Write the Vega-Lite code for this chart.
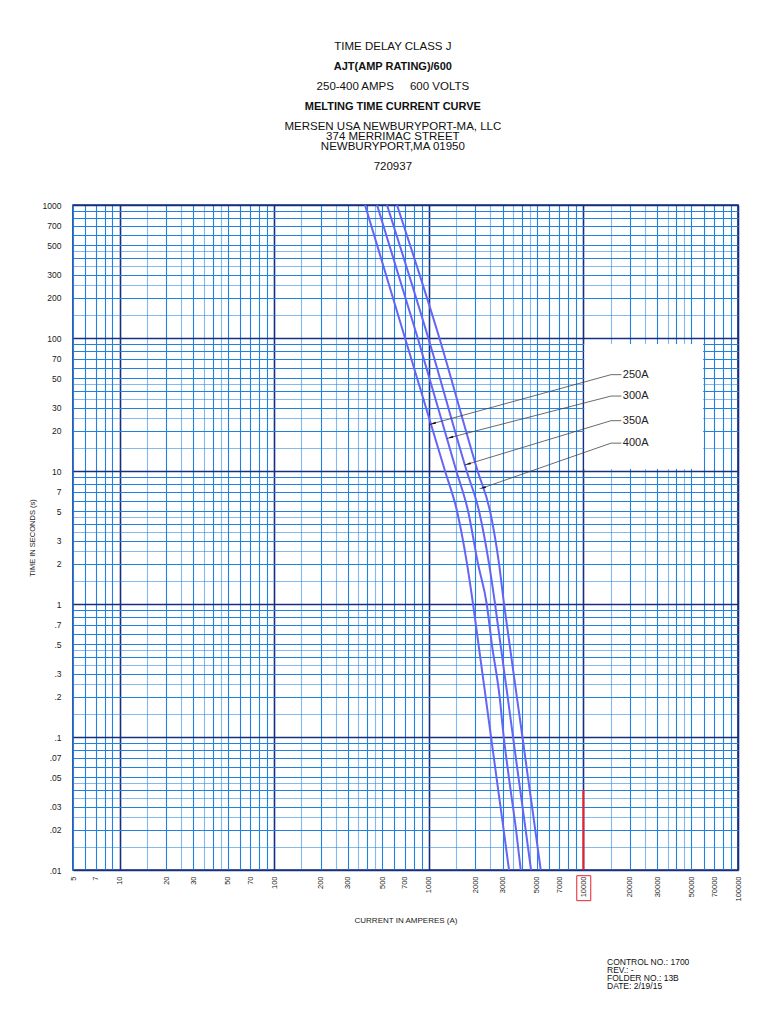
{
  "$schema": "https://vega.github.io/schema/vega-lite/v6.json",
  "width": 665,
  "height": 665,
  "autosize": "none",
  "padding": {"left": 73, "top": 205, "right": 30, "bottom": 154},
  "background": "white",
  "config": {
    "font": "Liberation Sans",
    "view": {"stroke": "#15307f", "strokeWidth": 1.6},
    "text": {"font": "Liberation Sans"}
  },
  "datasets": {
    "curves": [
      {"rating": "250A", "t": 1000, "I": 387}, {"rating": "250A", "t": 100, "I": 702}, {"rating": "250A", "t": 10, "I": 1274}, {"rating": "250A", "t": 5, "I": 1523}, {"rating": "250A", "t": 2, "I": 1768}, {"rating": "250A", "t": 1, "I": 1933}, {"rating": "250A", "t": 0.5, "I": 2096}, {"rating": "250A", "t": 0.2, "I": 2332}, {"rating": "250A", "t": 0.1, "I": 2528}, {"rating": "250A", "t": 0.05, "I": 2740}, {"rating": "250A", "t": 0.02, "I": 3050}, {"rating": "250A", "t": 0.01, "I": 3305},
      {"rating": "300A", "t": 1000, "I": 463}, {"rating": "300A", "t": 100, "I": 848}, {"rating": "300A", "t": 10, "I": 1508}, {"rating": "300A", "t": 5, "I": 1795}, {"rating": "300A", "t": 2, "I": 2083}, {"rating": "300A", "t": 1, "I": 2371}, {"rating": "300A", "t": 0.5, "I": 2558}, {"rating": "300A", "t": 0.2, "I": 2873}, {"rating": "300A", "t": 0.1, "I": 3054}, {"rating": "300A", "t": 0.05, "I": 3295}, {"rating": "300A", "t": 0.02, "I": 3669}, {"rating": "300A", "t": 0.01, "I": 3934},
      {"rating": "350A", "t": 1000, "I": 537}, {"rating": "350A", "t": 100, "I": 993}, {"rating": "350A", "t": 10, "I": 1758}, {"rating": "350A", "t": 5, "I": 2114}, {"rating": "350A", "t": 2, "I": 2454}, {"rating": "350A", "t": 1, "I": 2683}, {"rating": "350A", "t": 0.5, "I": 2908}, {"rating": "350A", "t": 0.2, "I": 3237}, {"rating": "350A", "t": 0.1, "I": 3508}, {"rating": "350A", "t": 0.05, "I": 3802}, {"rating": "350A", "t": 0.02, "I": 4233}, {"rating": "350A", "t": 0.01, "I": 4586},
      {"rating": "400A", "t": 1000, "I": 623}, {"rating": "400A", "t": 100, "I": 1171}, {"rating": "400A", "t": 10, "I": 2070}, {"rating": "400A", "t": 5, "I": 2490}, {"rating": "400A", "t": 2, "I": 2848}, {"rating": "400A", "t": 1, "I": 3067}, {"rating": "400A", "t": 0.5, "I": 3330}, {"rating": "400A", "t": 0.2, "I": 3712}, {"rating": "400A", "t": 0.1, "I": 4035}, {"rating": "400A", "t": 0.05, "I": 4379}, {"rating": "400A", "t": 0.02, "I": 4883}, {"rating": "400A", "t": 0.01, "I": 5298}
    ],
    "leaders": [
      {"rating": "250A", "seq": 0, "I": 1071, "t": 22.8}, {"rating": "250A", "seq": 1, "I": 15100, "t": 53}, {"rating": "250A", "seq": 2, "I": 17600, "t": 53},
      {"rating": "300A", "seq": 0, "I": 1387, "t": 17.9}, {"rating": "300A", "seq": 1, "I": 15100, "t": 36.6}, {"rating": "300A", "seq": 2, "I": 17600, "t": 36.6},
      {"rating": "350A", "seq": 0, "I": 1803, "t": 11.3}, {"rating": "350A", "seq": 1, "I": 15100, "t": 23.9}, {"rating": "350A", "seq": 2, "I": 17600, "t": 23.9},
      {"rating": "400A", "seq": 0, "I": 2254, "t": 7.49}, {"rating": "400A", "seq": 1, "I": 15100, "t": 16.2}, {"rating": "400A", "seq": 2, "I": 17600, "t": 16.2}
    ],
    "labels": [
      {"rating": "250A", "I": 18000, "t": 53},
      {"rating": "300A", "I": 18000, "t": 36.6},
      {"rating": "350A", "I": 18000, "t": 23.9},
      {"rating": "400A", "I": 18000, "t": 16.2}
    ],
    "box": [{"I": 10150, "I2": 59500, "t": 10.35, "t2": 90}],
    "redline": [{"I": 10000, "t": 0.01, "t2": 0.04}],
    "redbox": [{"I": 9060, "I2": 11160, "t": 0.00906, "t2": 0.00588}],
    "header": [
      {"line": 0, "text": "TIME DELAY CLASS J", "bold": false},
      {"line": 1, "text": "AJT(AMP RATING)/600", "bold": true},
      {"line": 2, "text": "250-400 AMPS\u00a0\u00a0\u00a0\u00a0\u00a0600 VOLTS", "bold": false},
      {"line": 3, "text": "MELTING TIME CURRENT CURVE", "bold": true},
      {"line": 4, "text": "MERSEN USA NEWBURYPORT-MA, LLC\n374 MERRIMAC STREET\nNEWBURYPORT,MA 01950", "bold": false},
      {"line": 6, "text": "720937", "bold": false}
    ],
    "footer": [{"text": "CONTROL NO.: 1700\nREV.: -\nFOLDER NO.: 13B\nDATE: 2/19/15"}]
  },
  "layer": [
    {
      "encoding": {
        "x": {
          "field": "I",
          "type": "quantitative",
          "title": "CURRENT IN AMPERES (A)",
          "scale": {"type": "log", "domain": [5, 100000], "nice": false},
          "axis": {
            "values": [5,6,7,8,9,10,15,20,25,30,35,40,45,50,60,70,80,90,100,150,200,250,300,350,400,450,500,600,700,800,900,1000,1500,2000,2500,3000,3500,4000,4500,5000,6000,7000,8000,9000,10000,15000,20000,25000,30000,35000,40000,45000,50000,60000,70000,80000,90000,100000],
            "grid": true,
            "ticks": false,
            "domain": false,
            "labelAngle": 270,
            "labelFontSize": 7.5,
            "labelPadding": 6,
            "labelColor": "#222222",
            "labelOverlap": false,
            "labelFlush": false,
            "labelExpr": "indexof([5,7,10,20,30,50,70,100,200,300,500,700,1000,2000,3000,5000,7000,10000,20000,30000,50000,70000,100000], datum.value) >= 0 ? '' + datum.value : ''",
            "gridColor": {"condition": {"test": "abs(log(datum.value)/LN10 - round(log(datum.value)/LN10)) < 1e-6", "value": "#15307f"}, "value": "#1f82e0"},
            "gridWidth": {"condition": {"test": "abs(log(datum.value)/LN10 - round(log(datum.value)/LN10)) < 1e-6", "value": 1.6}, "value": 1.1},
            "gridOpacity": {"condition": {"test": "abs(2*datum.value/pow(10,floor(log(datum.value)/LN10+1e-6)) - round(2*datum.value/pow(10,floor(log(datum.value)/LN10+1e-6)))) < 1e-6 && abs(datum.value/pow(10,floor(log(datum.value)/LN10+1e-6)) - round(datum.value/pow(10,floor(log(datum.value)/LN10+1e-6)))) > 0.1", "value": 0.55}, "value": 1},
            "titleFontSize": 8,
            "titleFontWeight": "normal",
            "titleColor": "#222222",
            "titlePadding": 15
          }
        },
        "y": {
          "field": "t",
          "type": "quantitative",
          "title": "TIME IN SECONDS (s)",
          "scale": {"type": "log", "domain": [0.01, 1000], "nice": false},
          "axis": {
            "values": [0.01,0.015,0.02,0.025,0.03,0.035,0.04,0.045,0.05,0.06,0.07,0.08,0.09,0.1,0.15,0.2,0.25,0.3,0.35,0.4,0.45,0.5,0.6,0.7,0.8,0.9,1,1.5,2,2.5,3,3.5,4,4.5,5,6,7,8,9,10,15,20,25,30,35,40,45,50,60,70,80,90,100,150,200,250,300,350,400,450,500,600,700,800,900,1000],
            "grid": true,
            "ticks": false,
            "domain": false,
            "labelFontSize": 8.5,
            "labelPadding": 12,
            "labelColor": "#222222",
            "labelOverlap": false,
            "labelFlush": false,
            "labelExpr": "indexof([0.01,0.02,0.03,0.05,0.07,0.1,0.2,0.3,0.5,0.7,1,2,3,5,7,10,20,30,50,70,100,200,300,500,700,1000], datum.value) >= 0 ? (datum.value < 1 ? replace('' + datum.value, '0.', '.') : '' + datum.value) : ''",
            "gridColor": {"condition": {"test": "abs(log(datum.value)/LN10 - round(log(datum.value)/LN10)) < 1e-6", "value": "#15307f"}, "value": "#1f82e0"},
            "gridWidth": {"condition": {"test": "abs(log(datum.value)/LN10 - round(log(datum.value)/LN10)) < 1e-6", "value": 1.6}, "value": 1.1},
            "gridOpacity": {"condition": {"test": "abs(2*datum.value/pow(10,floor(log(datum.value)/LN10+1e-6)) - round(2*datum.value/pow(10,floor(log(datum.value)/LN10+1e-6)))) < 1e-6 && abs(datum.value/pow(10,floor(log(datum.value)/LN10+1e-6)) - round(datum.value/pow(10,floor(log(datum.value)/LN10+1e-6)))) > 0.1", "value": 0.55}, "value": 1},
            "titleFontSize": 7.5,
            "titleFontWeight": "normal",
            "titleColor": "#222222",
            "titlePadding": 6
          }
        }
      },
      "layer": [
        {
          "data": {"name": "box"},
          "mark": {"type": "rect", "fill": "white", "strokeWidth": 0},
          "encoding": {"x2": {"field": "I2"}, "y2": {"field": "t2"}}
        },
        {
          "data": {"name": "curves"},
          "mark": {"type": "line", "color": "#6464f5", "strokeWidth": 2, "interpolate": "monotone"},
          "encoding": {"detail": {"field": "rating", "type": "nominal"}, "order": {"field": "t", "sort": "descending"}}
        },
        {
          "data": {"name": "leaders"},
          "mark": {"type": "line", "color": "#444444", "strokeWidth": 0.8},
          "encoding": {"detail": {"field": "rating", "type": "nominal"}, "order": {"field": "seq", "type": "quantitative"}}
        },
        {
          "data": {"name": "leaders"},
          "transform": [{"filter": "datum.seq == 0"}],
          "mark": {"type": "point", "shape": "wedge", "filled": true, "color": "#111111", "size": 70, "angle": 254, "opacity": 1}
        },
        {
          "data": {"name": "labels"},
          "mark": {"type": "text", "align": "left", "baseline": "middle", "fontSize": 11, "color": "#222222"},
          "encoding": {"text": {"field": "rating", "type": "nominal"}}
        },
        {
          "data": {"name": "redline"},
          "mark": {"type": "rule", "color": "#e8202e", "strokeWidth": 2},
          "encoding": {"y2": {"field": "t2"}}
        },
        {
          "data": {"name": "redbox"},
          "mark": {"type": "rect", "fill": null, "fillOpacity": 0, "stroke": "#e8202e", "strokeWidth": 1, "clip": false},
          "encoding": {"x2": {"field": "I2"}, "y2": {"field": "t2"}}
        }
      ]
    },
    {
      "data": {"name": "header"},
      "encoding": {
        "x": {"datum": 0.481, "type": "quantitative", "scale": {"domain": [0, 1], "nice": false, "zero": false}, "axis": null},
        "y": {"field": "line", "type": "quantitative", "scale": {"domain": [41, 7.75], "nice": false, "zero": false}, "axis": null},
        "text": {"field": "text", "type": "nominal"}
      },
      "layer": [
        {
          "transform": [{"filter": "!datum.bold"}],
          "mark": {"type": "text", "align": "center", "baseline": "alphabetic", "fontSize": 11.5, "lineHeight": 10, "lineBreak": "\n", "color": "#111111", "clip": false}
        },
        {
          "transform": [{"filter": "datum.bold"}],
          "mark": {"type": "text", "align": "center", "baseline": "alphabetic", "fontSize": 11, "fontWeight": "bold", "color": "#111111", "clip": false}
        }
      ]
    },
    {
      "data": {"name": "footer"},
      "mark": {"type": "text", "align": "left", "baseline": "alphabetic", "fontSize": 8.5, "lineHeight": 8, "lineBreak": "\n", "color": "#111111", "clip": false},
      "encoding": {
        "x": {"datum": 0.803, "type": "quantitative", "scale": {"domain": [0, 1], "nice": false, "zero": false}, "axis": null},
        "y": {"datum": -0.1429, "type": "quantitative", "scale": {"domain": [0, 1], "nice": false, "zero": false}, "axis": null},
        "text": {"field": "text", "type": "nominal"}
      }
    }
  ],
  "resolve": {"scale": {"x": "independent", "y": "independent"}}
}
